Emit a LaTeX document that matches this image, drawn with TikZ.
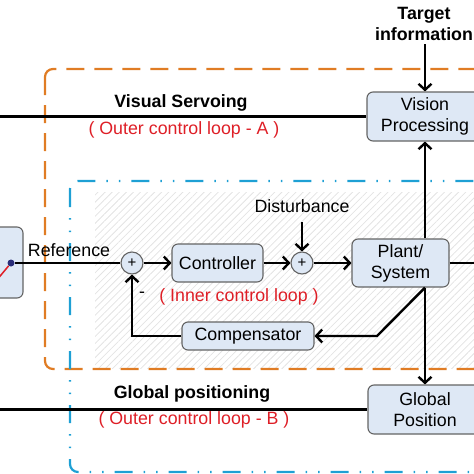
\documentclass[tikz,border=0pt]{standalone}
\usepackage{fontspec}
\setmainfont{Liberation Sans}
\usetikzlibrary{arrows.meta,patterns.meta}
\definecolor{orng}{RGB}{224,124,36}
\definecolor{cyanb}{RGB}{30,160,212}
\definecolor{boxfill}{RGB}{222,232,245}
\definecolor{boxline}{RGB}{100,100,100}
\definecolor{redt}{RGB}{222,30,38}
\definecolor{navy}{RGB}{40,44,120}
\begin{document}
\begin{tikzpicture}[x=1pt,y=-1pt,
  every node/.style={font=\fontsize{17.8}{21}\selectfont},
  blk/.style={draw=boxline, fill=boxfill, rounded corners=6pt, line width=1.1pt, inner sep=0pt, align=center},
  sumn/.style={circle, draw=boxline, fill=boxfill, line width=1.1pt, minimum size=22pt, inner sep=0pt, font=\fontsize{15}{15}\selectfont},
  ln/.style={line width=2.4pt, draw=black},
  arr/.style={ln, -{Straight Barb[length=6pt,width=13pt]}},
  lbl/.style={font=\fontsize{17.8}{21}\selectfont\bfseries},
  redlbl/.style={text=redt}
]
\useasboundingbox (0,0) rectangle (474,474);
\clip (0,0) rectangle (474,474);
\fill[pattern={Lines[angle=45,distance=5pt,line width=0.8pt]}, pattern color=black!11] (95,192) rectangle (480,368);
\draw[orng, line width=2.2pt, dash pattern=on 18pt off 10pt, rounded corners=8pt] (45,69) rectangle (530,369);
\draw[cyanb, line width=2.2pt, dash pattern=on 18pt off 11pt on 1.5pt off 11pt on 1.5pt off 11pt, rounded corners=8pt] (70,181) rectangle (530,472);

\node[blk, minimum width=116pt, minimum height=49pt] (vision) at (425,116.5) {Vision\\Processing};
\node[blk, minimum width=97pt, minimum height=48pt] (plant) at (400.5,263) {Plant/\\System};
\node[blk, minimum width=114pt, minimum height=49pt] (global) at (425,409.5) {Global\\Position};
\node[blk, minimum width=91pt, minimum height=38pt] (ctrl) at (217.5,263) {Controller};
\node[blk, minimum width=132pt, minimum height=28pt] (comp) at (248,336) {Compensator};
\node[blk, minimum width=66pt, minimum height=71pt] (lbox) at (-10,262.5) {};
\node[sumn] (s1) at (132,263) {+};
\node[sumn] (s2) at (302,263) {+};
\node[circle, fill=navy, inner sep=0pt, minimum size=7pt] (dot) at (11,263) {};

\coordinate (rl) at (-4,281);
\draw[redt, line width=1.5pt] (rl) -- (dot);

\node[lbl, align=center] (target) at (424,24) {Target\\information};
\node[lbl] (vs) at (181,103) {Visual Servoing};
\node[redlbl] (ola) at (184,130) {( Outer control loop - A )};
\node (refl) at (69,250) {Reference};
\node (dist) at (302,206) {Disturbance};
\node[redlbl] (icl) at (239,297) {( Inner control loop )};
\node (minus) at (142,295) {-};
\node[lbl] (gp) at (192,394) {Global positioning};
\node[redlbl] (olb) at (194,420) {( Outer control loop - B )};

\coordinate (vsL) at (-5,116.5);
\draw[ln] (vsL) -- (vision.west);
\coordinate (gpL) at (-5,409.5);
\draw[ln] (gpL) -- (global.west);
\draw[arr] (target.south -| vision.north) -- (vision.north);
\draw[arr] (plant.north -| vision.south) -- (vision.south);
\draw[arr] (plant.south -| global.north) -- (global.north);
\coordinate (pout) at (480,263);
\draw[ln] (plant.east) -- (pout);
\draw[ln] (dot) -- (s1.west);
\draw[arr] (s1.east) -- (ctrl.west);
\draw[arr] (ctrl.east) -- (s2.west);
\coordinate (dtop) at (302,222);
\draw[arr] (dtop) -- (s2.north);
\draw[arr] (s2.east) -- (plant.west);
\coordinate (fb) at (377,336);
\draw[arr] (plant.south -| vision.south) -- (fb) -- (comp.east);
\draw[arr] (comp.west) -| (s1.south);
\end{tikzpicture}
\end{document}
